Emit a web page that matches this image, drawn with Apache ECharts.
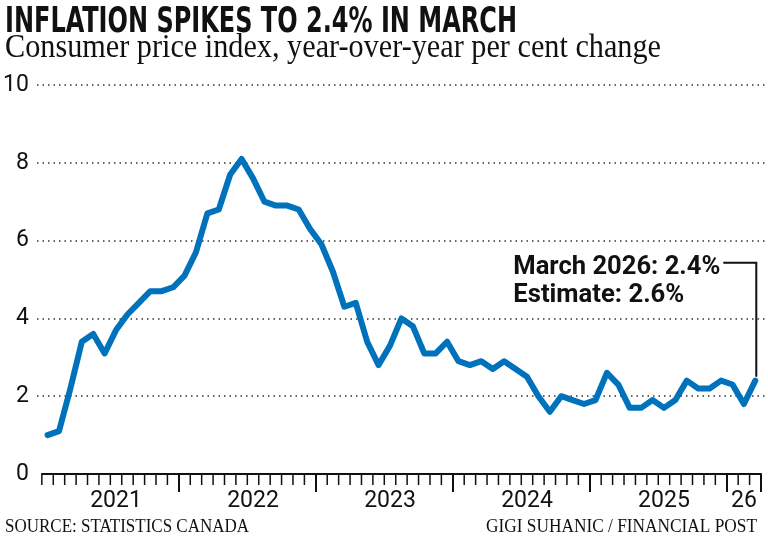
<!DOCTYPE html>
<html>
<head>
<meta charset="utf-8">
<script src="https://cdn.jsdelivr.net/npm/echarts@6/dist/echarts.min.js"></script>
<style>
  html, body { margin: 0; padding: 0; background: #fff; }
  #chart { width: 768px; height: 545px; }
</style>
</head>
<body>
<div id="chart"></div>
<script>
// 月度 CPI 同比 (%)
const years = [2021, 2022, 2023, 2024, 2025, 2026];
const cpi2021 = [1.0, 1.1, 2.2, 3.4, 3.6, 3.1, 3.7, 4.1, 4.4, 4.7, 4.7, 4.8];
const cpi2022 = [5.1, 5.7, 6.7, 6.8, 7.7, 8.1, 7.6, 7.0, 6.9, 6.9, 6.8, 6.3];
const cpi2023 = [5.9, 5.2, 4.3, 4.4, 3.4, 2.8, 3.3, 4.0, 3.8, 3.1, 3.1, 3.4];
const cpi2024 = [2.9, 2.8, 2.9, 2.7, 2.9, 2.7, 2.5, 2.0, 1.6, 2.0, 1.9, 1.8];
const cpi2025 = [1.9, 2.6, 2.3, 1.7, 1.7, 1.9, 1.7, 1.9, 2.4, 2.2, 2.2, 2.4];
const cpi2026 = [2.3, 1.8, 2.4];
const yearLabels = ['2021', '2022', '2023', '2024', '2025', '26'];
const yTicks = [0, 2, 4, 6, 8, 10];
const lastLabel = ['March 2026: 2.4%', 'Estimate: 2.6%'];

const cpiByYear = [cpi2021, cpi2022, cpi2023, cpi2024, cpi2025, cpi2026];
const months = [];
const values = [];
cpiByYear.forEach((arr, yi) => {
  arr.forEach((v, mi) => {
    months.push(years[yi] + '-' + String(mi + 1).padStart(2, '0'));
    values.push(v);
  });
});

const COND = '"DejaVu Sans Condensed", "DejaVu Sans", sans-serif';
const SANS = 'Roboto, "Noto Sans", sans-serif';
const SERIF = '"Liberation Serif", "DejaVu Serif", serif';
const INK = '#111';

// 没有窄体字体, 用 scaleX 把文字压到参考宽度
const measureCtx = document.createElement('canvas').getContext('2d');
function fitScale(text, font, width) {
  measureCtx.font = font;
  return width / measureCtx.measureText(text).width;
}

function textEl(text, font, x, y, width, align) {
  const s = fitScale(text, font, width);
  return {
    type: 'text', silent: true, x: x, y: y, scaleX: s, scaleY: 1,
    style: { text: text, font: font, fill: INK, align: align || 'left', verticalAlign: 'middle' }
  };
}

// 年份标签放在年中 (7 月)；最后一年只有 3 个月，放在 2 月
function yearLabelIndex(idx) {
  const [y, m] = months[idx].split('-').map(Number);
  if (y === years[years.length - 1]) return m === 2;
  return m === 7;
}

const chart = echarts.init(document.getElementById('chart'));

const option = {
  animation: false,
  backgroundColor: '#fff',
  grid: [
    { left: 40, right: 7, top: 85, bottom: 71 },
    // 网格线比坐标轴略宽
    { left: 37, right: 0, top: 85, bottom: 149 }
  ],
  xAxis: [
    {
      type: 'category', gridIndex: 0, data: months, boundaryGap: true,
      position: 'bottom', offset: 0,
      axisLine: { show: true, lineStyle: { color: INK, width: 2 } },
      axisTick: { show: false },
      axisLabel: {
        show: true,
        interval: (i) => yearLabelIndex(i),
        formatter: (v) => yearLabels[years.indexOf(+v.slice(0, 4))],
        fontFamily: SANS, fontSize: 23, color: INK, margin: 16
      }
    },
    // 年刻度
    {
      type: 'category', gridIndex: 0, data: months, boundaryGap: true,
      position: 'bottom', offset: 0,
      axisLine: { show: false },
      axisTick: {
        show: true, interval: (i) => i > 0 && months[i].endsWith('-01'),
        length: 18, lineStyle: { color: INK, width: 2 }
      },
      axisLabel: { show: false },
      splitLine: { show: false }
    },
    {
      type: 'value', gridIndex: 1, min: 0, max: 1, show: false
    }
  ],
  yAxis: [
    {
      type: 'value', gridIndex: 0, min: yTicks[0], max: yTicks[yTicks.length - 1], interval: 2,
      axisLine: { show: false }, axisTick: { show: false },
      splitLine: { show: false },
      axisLabel: { fontFamily: SANS, fontSize: 23, color: INK, margin: 13 }
    },
    {
      type: 'value', gridIndex: 1, min: 2, max: 10, interval: 2,
      axisLine: { show: false }, axisTick: { show: false }, axisLabel: { show: false },
      splitLine: { show: true, lineStyle: { color: '#333', width: 1.5, type: [1.5, 4] } }
    }
  ],
  series: [
    {
      type: 'line', xAxisIndex: 0, yAxisIndex: 0, data: values,
      symbol: 'none',
      lineStyle: { color: '#0072bc', width: 6, cap: 'round', join: 'round' }
    }
  ]
};

chart.setOption(option);

// 月刻度: 每个月中心点用坐标轴换算, 再取相邻中点作为边界
const centers = months.map((m, i) => chart.convertToPixel({ xAxisIndex: 0, yAxisIndex: 0 }, [i, 0]));
const band = centers[1][0] - centers[0][0];
const y0 = centers[0][1];
const bounds = centers.map((c) => c[0] - band / 2).concat([centers[centers.length - 1][0] + band / 2]);
const monthTicks = bounds.map((x) => ({
  type: 'polyline', silent: true, z: 10,
  shape: { points: [[x, y0], [x, y0 + 11]] },
  style: { stroke: INK, lineWidth: 1.5, fill: null }
}));

// 最新数据点标注
const lastIdx = values.length - 1;
const p = chart.convertToPixel({ xAxisIndex: 0, yAxisIndex: 0 }, [lastIdx, values[lastIdx]]);
chart.setOption({
  graphic: [
    textEl('INFLATION SPIKES TO 2.4% IN MARCH', 'bold 36px ' + COND, 5, 22.5, 512),
    textEl('Consumer price index, year-over-year per cent change', '33px ' + SERIF, 5, 48, 656),
    textEl('SOURCE: STATISTICS CANADA', '18px ' + SERIF, 5, 527, 244),
    textEl('GIGI SUHANIC / FINANCIAL POST', '18px ' + SERIF, 757, 527, 271, 'right'),
    {
      type: 'polyline', silent: true,
      shape: { points: [[p[0] - 32, p[1] - 118], [p[0] + 1, p[1] - 118], [p[0] + 1, p[1] - 4]] },
      style: { stroke: INK, lineWidth: 2, fill: null }
    },
    textEl(lastLabel[0], 'bold 25px ' + SANS, p[0] - 242, p[1] - 113, 207),
    textEl(lastLabel[1], 'bold 25px ' + SANS, p[0] - 242, p[1] - 85, 171)
  ].concat(monthTicks)
});
</script>
</body>
</html>
